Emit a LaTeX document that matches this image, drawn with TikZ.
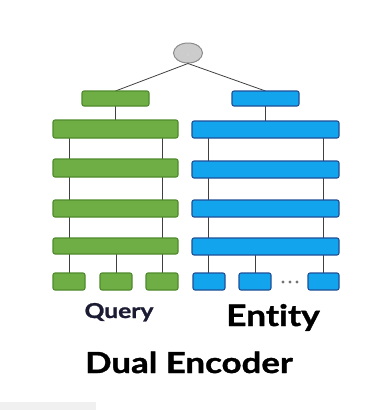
\documentclass[tikz,border=0pt]{standalone}
\usepackage{fontspec}
\setmainfont{Lato}
\newfontfamily\heavy{Lato Bold}[FakeBold=1.2,FakeStretch=1.2,Ligatures=NoCommon]
\usetikzlibrary{shapes.geometric}
\definecolor{gfill}{HTML}{6FAE45}
\definecolor{gdraw}{HTML}{4F8A2C}
\definecolor{bfill}{HTML}{12A5EE}
\definecolor{bdraw}{HTML}{1F4F96}
\definecolor{qtext}{HTML}{1B1B33}
\begin{document}
\begin{tikzpicture}[x=1pt,y=-1pt,
  gbox/.style={draw=gdraw,fill=gfill,line width=1.1pt,rounded corners=2pt},
  bbox/.style={draw=bdraw,fill=bfill,line width=1.1pt,rounded corners=2pt},
  conn/.style={draw=black!75,line width=0.8pt},
  dot/.style={fill=black!55,circle,inner sep=0pt,minimum size=3.2pt},
  lbl/.style={inner sep=0pt,anchor=base}]
\useasboundingbox (0,0) rectangle (382,410);
\fill[black!6] (0,402) rectangle (96,410);
% top circle
\node[draw=black!45,fill=black!20,line width=1pt,ellipse,minimum width=29pt,minimum height=20pt,inner sep=0pt] (s) at (188,53) {};
\node[text=white!85!black,font=\fontsize{5}{5}\selectfont,inner sep=0pt] (sl) at (188,55) {s};
% connectors
\coordinate (gtop) at (115.5,91); \coordinate (gtopb) at (115.5,106);
\coordinate (btop) at (265.5,91); \coordinate (btopb) at (265.5,106);
\draw[conn] (s.south) -- (gtop);
\draw[conn] (s.south) -- (btop);
\draw[conn] (gtopb) -- (115.5,120);
\foreach \x in {69,162}{
  \draw[conn] (\x,138) -- (\x,159);
  \draw[conn] (\x,177) -- (\x,200);
  \draw[conn] (\x,217) -- (\x,238);
  \draw[conn] (\x,254) -- (\x,273);}
\draw[conn] (116,254) -- (116,273);
\draw[conn] (btopb) -- (265.5,121);
\foreach \x in {208,323}{
  \draw[conn] (\x,138) -- (\x,161);
  \draw[conn] (\x,178) -- (\x,200);
  \draw[conn] (\x,217) -- (\x,238);
  \draw[conn] (\x,255) -- (\x,273);}
\draw[conn] (255,255) -- (255,273);
% green encoder
\path[gbox] (82,91) rectangle (149,106);
\path[gbox] (53,120) rectangle (178,138);
\path[gbox] (53,159) rectangle (178,177);
\path[gbox] (53,200) rectangle (178,217);
\path[gbox] (53,238) rectangle (178,254);
\path[gbox] (53,273) rectangle (85,290);
\path[gbox] (100,273) rectangle (132,290);
\path[gbox] (146,273) rectangle (178,290);
% blue encoder
\path[bbox] (232,91) rectangle (299,106);
\path[bbox] (192,121) rectangle (339,138);
\path[bbox] (192,161) rectangle (339,178);
\path[bbox] (192,200) rectangle (339,217);
\path[bbox] (192,238) rectangle (339,255);
\path[bbox] (193,273) rectangle (225,290);
\path[bbox] (239,273) rectangle (271,290);
\path[bbox] (308,273) rectangle (339,290);
\node[dot] (d1) at (283,282) {};
\node[dot] (d2) at (290,282) {};
\node[dot] (d3) at (297,282) {};
% labels
\node[lbl,text=qtext,font=\heavy\fontsize{20.5}{20.5}\selectfont] (q) at (119,318) {Query};
\node[lbl,font=\heavy\fontsize{29.5}{29.5}\selectfont] (e) at (273,326) {Entity};
\node[lbl,font=\heavy\fontsize{29}{29}\selectfont] (d) at (189,373) {Dual Encoder};
\end{tikzpicture}
\end{document}
